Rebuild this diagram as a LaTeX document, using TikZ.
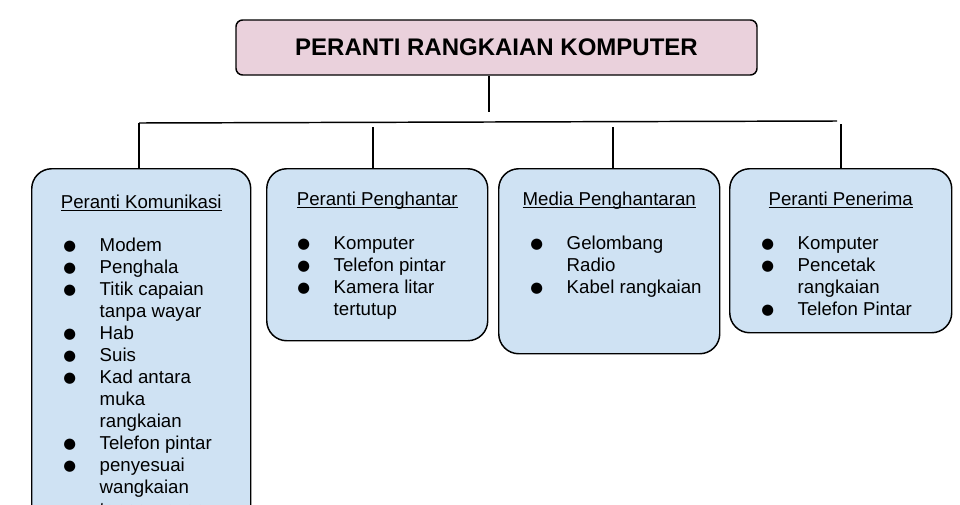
\documentclass[tikz,border=0pt]{standalone}
\usepackage{fontspec}
\setmainfont{Liberation Sans}
\newfontfamily\symfont{DejaVu Sans}
\usetikzlibrary{calc,positioning}

\definecolor{titlepink}{HTML}{EAD1DC}
\definecolor{boxblue}{HTML}{CFE2F3}

\newcommand{\blt}{\makebox[22.5pt][l]{\makebox[0pt][c]{\raisebox{0.6pt}{\symfont\fontsize{11}{11}\selectfont ●}}}}
\newcommand{\ulhead}[1]{\setbox0\hbox{#1}\rlap{\rule[-2pt]{\wd0}{0.8pt}}\box0}

\begin{document}
\begin{tikzpicture}[
  x=0.75pt, y=-0.75pt,
  line width=1.1pt,
  titlebox/.style={draw, fill=titlepink, rounded corners=5pt, minimum width=390.75pt, minimum height=41.25pt, inner sep=0pt, font=\fontsize{18}{20}\selectfont\bfseries},
  groupbox/.style={draw, fill=boxblue, rounded corners=15pt, anchor=north west, inner sep=0pt, minimum width=165.75pt},
  head/.style={anchor=base, inner sep=0pt, font=\fontsize{14}{16.5}\selectfont},
  items/.style={anchor=base west, inner sep=0pt, font=\fontsize{14}{16.5}\selectfont},
]
\path[use as bounding box, clip] (0,0) rectangle (960,504);

\node[titlebox] (title) at (496.5,47.5) {PERANTI RANGKAIAN KOMPUTER};

\node[groupbox, minimum width=164.25pt, minimum height=294pt] (komunikasi) at (31,168) {};
\node[groupbox, minimum height=129pt] (penghantar) at (266,168) {};
\node[groupbox, minimum height=138.75pt] (media) at (498,168) {};
\node[groupbox, minimum width=166.5pt, minimum height=123pt] (penerima) at (729,168) {};

% headings
\node[head] (komunikasi-h) at ($(komunikasi.north)+(0,40)$) {\ulhead{Peranti Komunikasi}};
\node[head] (penghantar-h) at ($(penghantar.north)+(0,37)$) {\ulhead{Peranti Penghantar}};
\node[head] (media-h) at ($(media.north)+(0,37)$) {\ulhead{Media Penghantaran}};
\node[head] (penerima-h) at ($(penerima.north)+(0,37)$) {\ulhead{Peranti Penerima}};

% lists
\node[items] (komunikasi-l) at ($(komunikasi.north west)+(38,83)$) {%
  \begin{tabular}[t]{@{}l@{}l@{}}
    \blt & Modem\\
    \blt & Penghala\\
    \blt & Titik capaian\\
         & tanpa wayar\\
    \blt & Hab\\
    \blt & Suis\\
    \blt & Kad antara\\
         & muka\\
         & rangkaian\\
    \blt & Telefon pintar\\
    \blt & penyesuai\\
         & wangkaian\\
         & tanpa wayar
  \end{tabular}};
\node[items] (penghantar-l) at ($(penghantar.north west)+(37,81)$) {%
  \begin{tabular}[t]{@{}l@{}l@{}}
    \blt & Komputer\\
    \blt & Telefon pintar\\
    \blt & Kamera litar\\
         & tertutup
  \end{tabular}};
\node[items] (media-l) at ($(media.north west)+(38,81)$) {%
  \begin{tabular}[t]{@{}l@{}l@{}}
    \blt & Gelombang\\
         & Radio\\
    \blt & Kabel rangkaian
  \end{tabular}};
\node[items] (penerima-l) at ($(penerima.north west)+(38,81)$) {%
  \begin{tabular}[t]{@{}l@{}l@{}}
    \blt & Komputer\\
    \blt & Pencetak\\
         & rangkaian\\
    \blt & Telefon Pintar
  \end{tabular}};

% tree lines
\coordinate (stem) at (489,112);
\coordinate (barL) at (139,123);
\coordinate (barR) at (837,121);
\coordinate (drop2) at (373,127);
\coordinate (drop3) at (613,127);
\coordinate (drop4) at (841,124);

\draw (title.south -| stem) -- (stem);
\draw (barL) -- (barR);
\draw (barL) -- (komunikasi.north -| barL);
\draw (drop2) -- (penghantar.north -| drop2);
\draw (drop3) -- (media.north -| drop3);
\draw (drop4) -- (penerima.north -| drop4);
\end{tikzpicture}
\end{document}
